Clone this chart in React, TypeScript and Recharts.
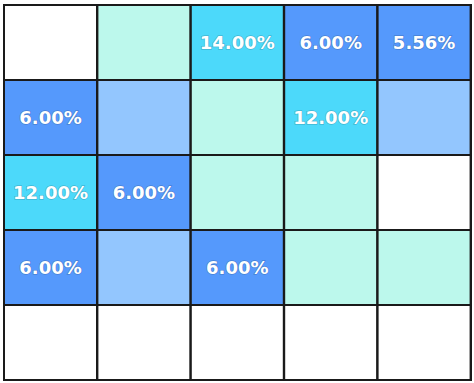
import { BarChart, Bar, XAxis, YAxis, Cell, LabelList, ReferenceArea } from 'recharts';

// columns of the grid, left to right
const COLUMNS = ['A', 'B', 'C', 'D', 'E'];

// rows, top to bottom (percent share per cell)
const ROW_1 = [0, 2, 14, 6, 5.56];
const ROW_2 = [6, 4, 2, 12, 4];
const ROW_3 = [12, 6, 2, 2, 0];
const ROW_4 = [6, 4, 6, 2, 2];
const ROW_5 = [0, 0, 0, 0, 0];
const ROWS = [ROW_1, ROW_2, ROW_3, ROW_4, ROW_5];
const ROW_KEYS = ['r1', 'r2', 'r3', 'r4', 'r5'];

const colorFor = (v: number) => {
    if (v === 0) return '#ffffff';
    if (v < 3) return '#bcf8ec';
    if (v < 5) return '#93c6fe';
    if (v < 10) return '#5599fc';
    return '#4cd9fa';
};

// every cell gets one unit of height so rows stack evenly
const data = COLUMNS.map((col) => {
    const row: any = { col };
    ROW_KEYS.forEach(k => { row[k] = 1; });
    return row;
});

const makeLabel = (rowIdx: number) => (props: any) => {
    const { x, y, width, height, index } = props;
    const v = ROWS[rowIdx][index];
    if (v < 5) return null;
    return (
        <text x={x + width / 2} y={y + height / 2} dy="0.35em" textAnchor="middle"
            fill="#ffffff" fontSize={18} fontWeight="bold" fontFamily="DejaVu Sans, Verdana, sans-serif"
            stroke="rgba(0,0,0,0.18)" strokeWidth={1.5} paintOrder="stroke">
            {v.toFixed(2)}%
        </text>
    );
};

export default function App() {
    // stack from bottom row upwards
    const order = [4, 3, 2, 1, 0];
    return (
        <div style={{ position: 'absolute', left: 0, top: 0, width: 474, height: 383, background: '#fff' }}>
            <BarChart width={474} height={383} data={data} barCategoryGap={0} barGap={0}
                margin={{ top: 5, right: 3, bottom: 3, left: 4 }}>
                <XAxis dataKey="col" hide />
                <YAxis type="number" domain={[0, 5]} hide />
                {order.map(r => (
                    <Bar key={ROW_KEYS[r]} dataKey={ROW_KEYS[r]} stackId="grid" isAnimationActive={false}
                        stroke="#1a1a1a" strokeWidth={2}>
                        {ROWS[r].map((v, i) => <Cell key={i} fill={colorFor(v)} />)}
                        <LabelList dataKey={ROW_KEYS[r]} content={makeLabel(r)} />
                    </Bar>
                ))}
                <ReferenceArea y1={0} y2={5} fill="none" fillOpacity={0} stroke="#1a1a1a" strokeWidth={2}
                    ifOverflow="visible" />
            </BarChart>
        </div>
    );
}
